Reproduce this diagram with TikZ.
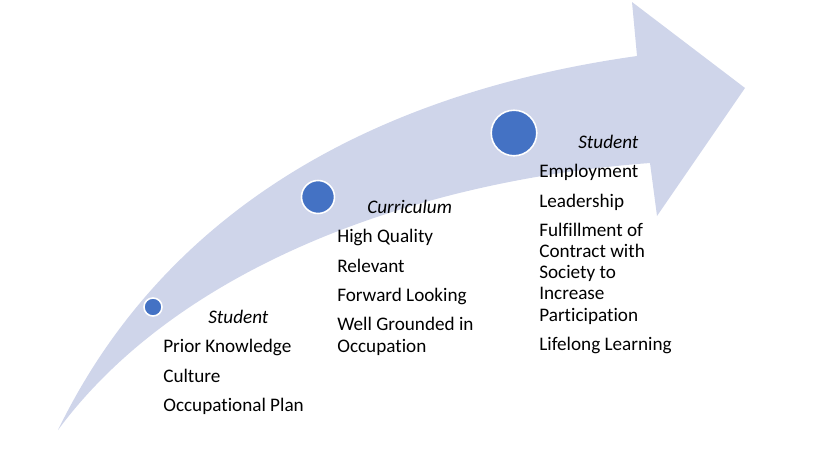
\documentclass[tikz,border=0pt]{standalone}
\usepackage{fontspec}
\setmainfont{Carlito}[Ligatures=NoCommon]
\definecolor{arrowfill}{HTML}{CFD5EA}
\definecolor{dotfill}{HTML}{4472C4}
\begin{document}
\begin{tikzpicture}[x=0.6364pt,y=-0.6364pt,
  lbl/.style={anchor=base west,inner sep=0pt,font=\fontsize{12.2}{13.5}\selectfont,text=black},
  hdr/.style={lbl,font=\fontsize{12.2}{13.5}\selectfont\itshape},
  dot/.style={circle,fill=dotfill,draw=white,line width=1pt,inner sep=0pt}]
\useasboundingbox (0,0) rectangle (836,460);
% arrow body
\fill[arrowfill] (58,430) .. controls (160,220) and (360,95) .. (637,56)
  -- (632,2) -- (745,88) -- (657,216) -- (650,163)
  .. controls (420,180) and (180,265) .. (58,430) -- cycle;
% dots
\node[dot,minimum size=11.5pt] (d1) at (153,307) {};
\node[dot,minimum size=21pt] (d2) at (318,197) {};
\node[dot,minimum size=29pt] (d3) at (514,133) {};
% group 1
\node[hdr] (s1) at (208,323) {Student};
\node[lbl] (a1) at (163,352.7) {Prior Knowledge};
\node[lbl] (a2) at (163,382) {Culture};
\node[lbl] (a3) at (163,411.7) {Occupational Plan};
% group 2
\node[hdr] (c1) at (367,213) {Curriculum};
\node[lbl] (b1) at (337,242.7) {High Quality};
\node[lbl] (b2) at (337,272) {Relevant};
\node[lbl] (b3) at (337,301.7) {Forward Looking};
\node[lbl] (b4) at (337,330.7) {Well Grounded in};
\node[lbl] (b5) at (337,352.3) {Occupation};
% group 3
\node[hdr] (s3) at (578,148.3) {Student};
\node[lbl] (e1) at (539,177.3) {Employment};
\node[lbl] (e2) at (539,207.3) {Leadership};
\node[lbl] (e3) at (539,236.7) {Fulfillment of};
\node[lbl] (e4) at (539,257.5) {Contract with};
\node[lbl] (e5) at (539,278.5) {Society to};
\node[lbl] (e6) at (539,299.8) {Increase};
\node[lbl] (e7) at (539,321) {Participation};
\node[lbl] (e8) at (539,350) {Lifelong Learning};
\end{tikzpicture}
\end{document}
